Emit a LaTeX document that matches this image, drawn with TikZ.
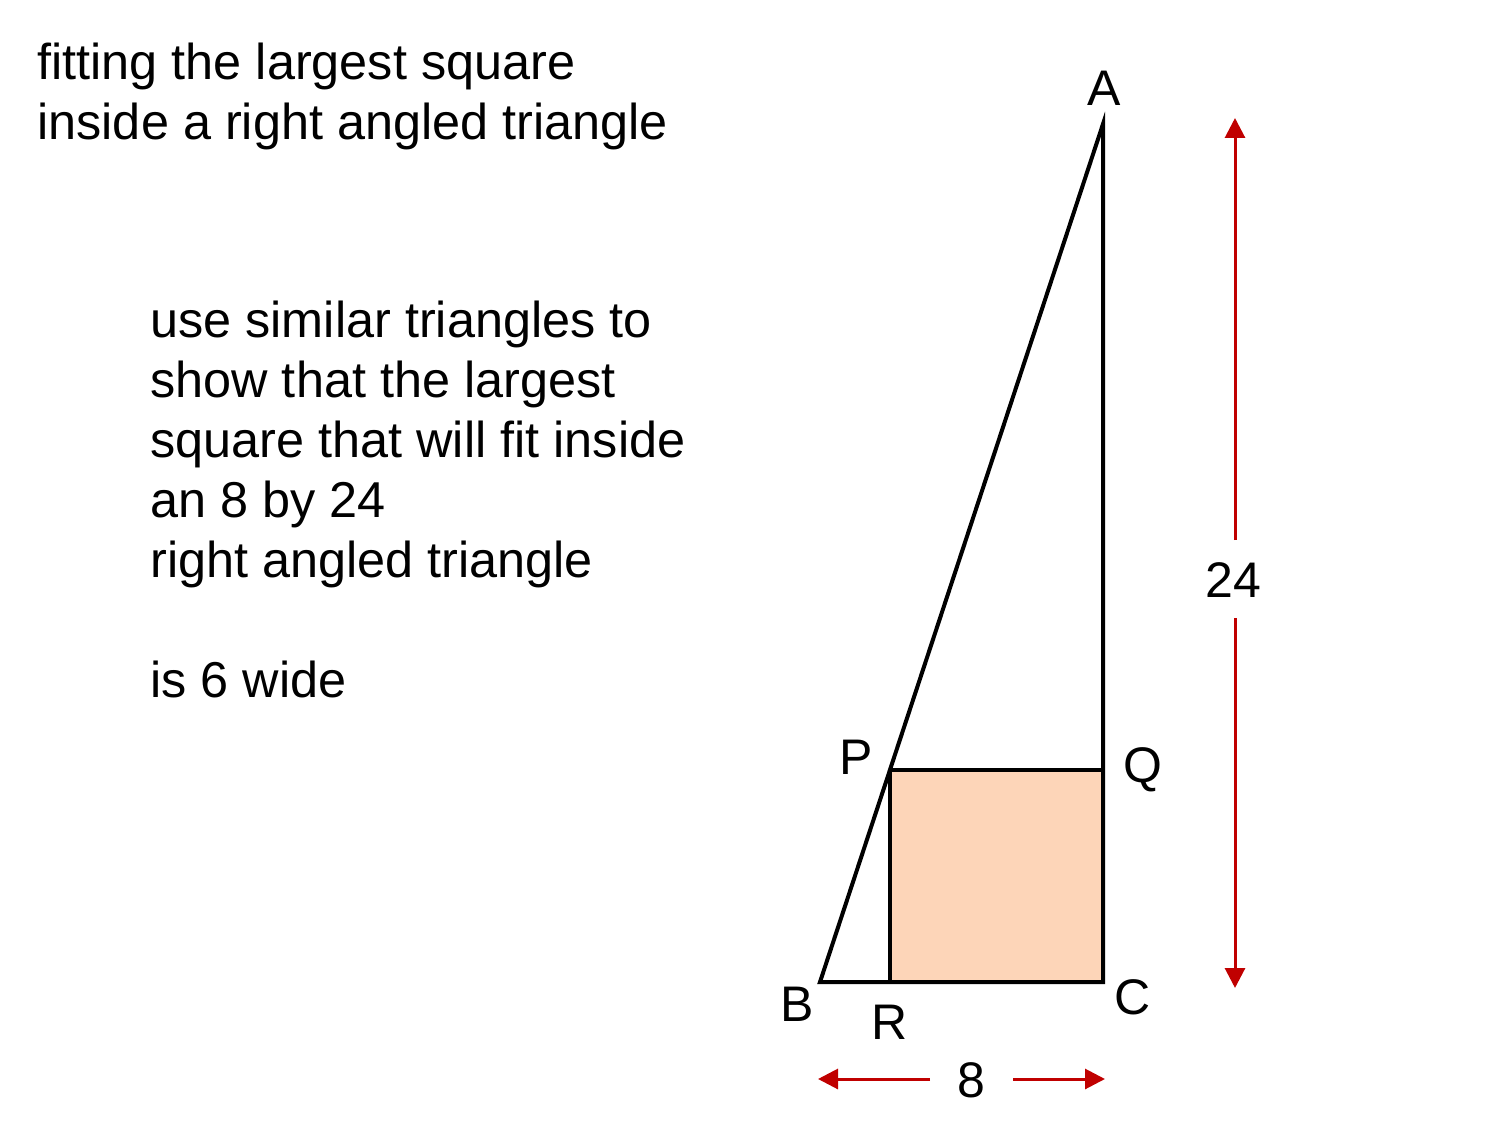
\documentclass[tikz,border=0pt]{standalone}
\usepackage{fontspec}
\setmainfont{Liberation Sans}
\usetikzlibrary{arrows.meta}
\definecolor{peach}{RGB}{253,213,184}
\definecolor{dimred}{RGB}{192,0,0}
\begin{document}
\begin{tikzpicture}[x=0.5pt,y=-0.5pt,
  txt/.style={anchor=base west,inner sep=0pt,font=\fontsize{25.2pt}{30pt}\selectfont},
  lbl/.style={inner sep=0pt,font=\fontsize{25pt}{30pt}\selectfont},
  edge/.style={line width=2pt,line join=miter},
  dim/.style={draw=dimred,line width=1.5pt,-{Triangle[length=10pt,width=10pt]}}]
\useasboundingbox (0,0) rectangle (1500,1134);
% vertices
\coordinate (A) at (1103,124);
\coordinate (B) at (820,982);
\coordinate (C) at (1103,982);
\coordinate (P) at (890,770);
\coordinate (Q) at (1103,770);
\coordinate (R) at (890,982);
% square
\fill[peach] (R) rectangle (Q);
\draw[edge] (P) -- (Q);
\draw[edge] (P) -- (R);
\draw[edge] (A) -- (B) -- (C) -- cycle;
% labels
\node[lbl] (lA) at (1104,88) {A};
\node[lbl] (lB) at (797,1004) {B};
\node[lbl] (lC) at (1133,997) {C};
\node[lbl] (lP) at (856,757) {P};
\node[lbl] (lQ) at (1143,770) {Q};
\node[lbl] (lR) at (890,1022) {R};
% dimensions
\node[lbl] (n24) at (1233,580) {24};
\node[lbl] (n8) at (971,1080) {8};
\coordinate (v1) at (1235,540);
\coordinate (v1t) at (1235,118);
\coordinate (v2) at (1235,618);
\coordinate (v2t) at (1235,988);
\coordinate (h1) at (930,1079);
\coordinate (h1t) at (818,1079);
\coordinate (h2) at (1013,1079);
\coordinate (h2t) at (1105,1079);
\draw[dim] (v1) -- (v1t);
\draw[dim] (v2) -- (v2t);
\draw[dim] (h1) -- (h1t);
\draw[dim] (h2) -- (h2t);
% text
\node[txt] (t1) at (37,80) {fitting the largest square};
\node[txt] (t2) at (37,140) {inside a right angled triangle};
\node[txt] (u1) at (150,337) {use similar triangles to};
\node[txt] (u2) at (150,397) {show that the largest};
\node[txt] (u3) at (150,457) {square that will fit inside};
\node[txt] (u4) at (150,517) {an 8 by 24};
\node[txt] (u5) at (150,577) {right angled triangle};
\node[txt] (u6) at (150,697) {is 6 wide};
\end{tikzpicture}
\end{document}
